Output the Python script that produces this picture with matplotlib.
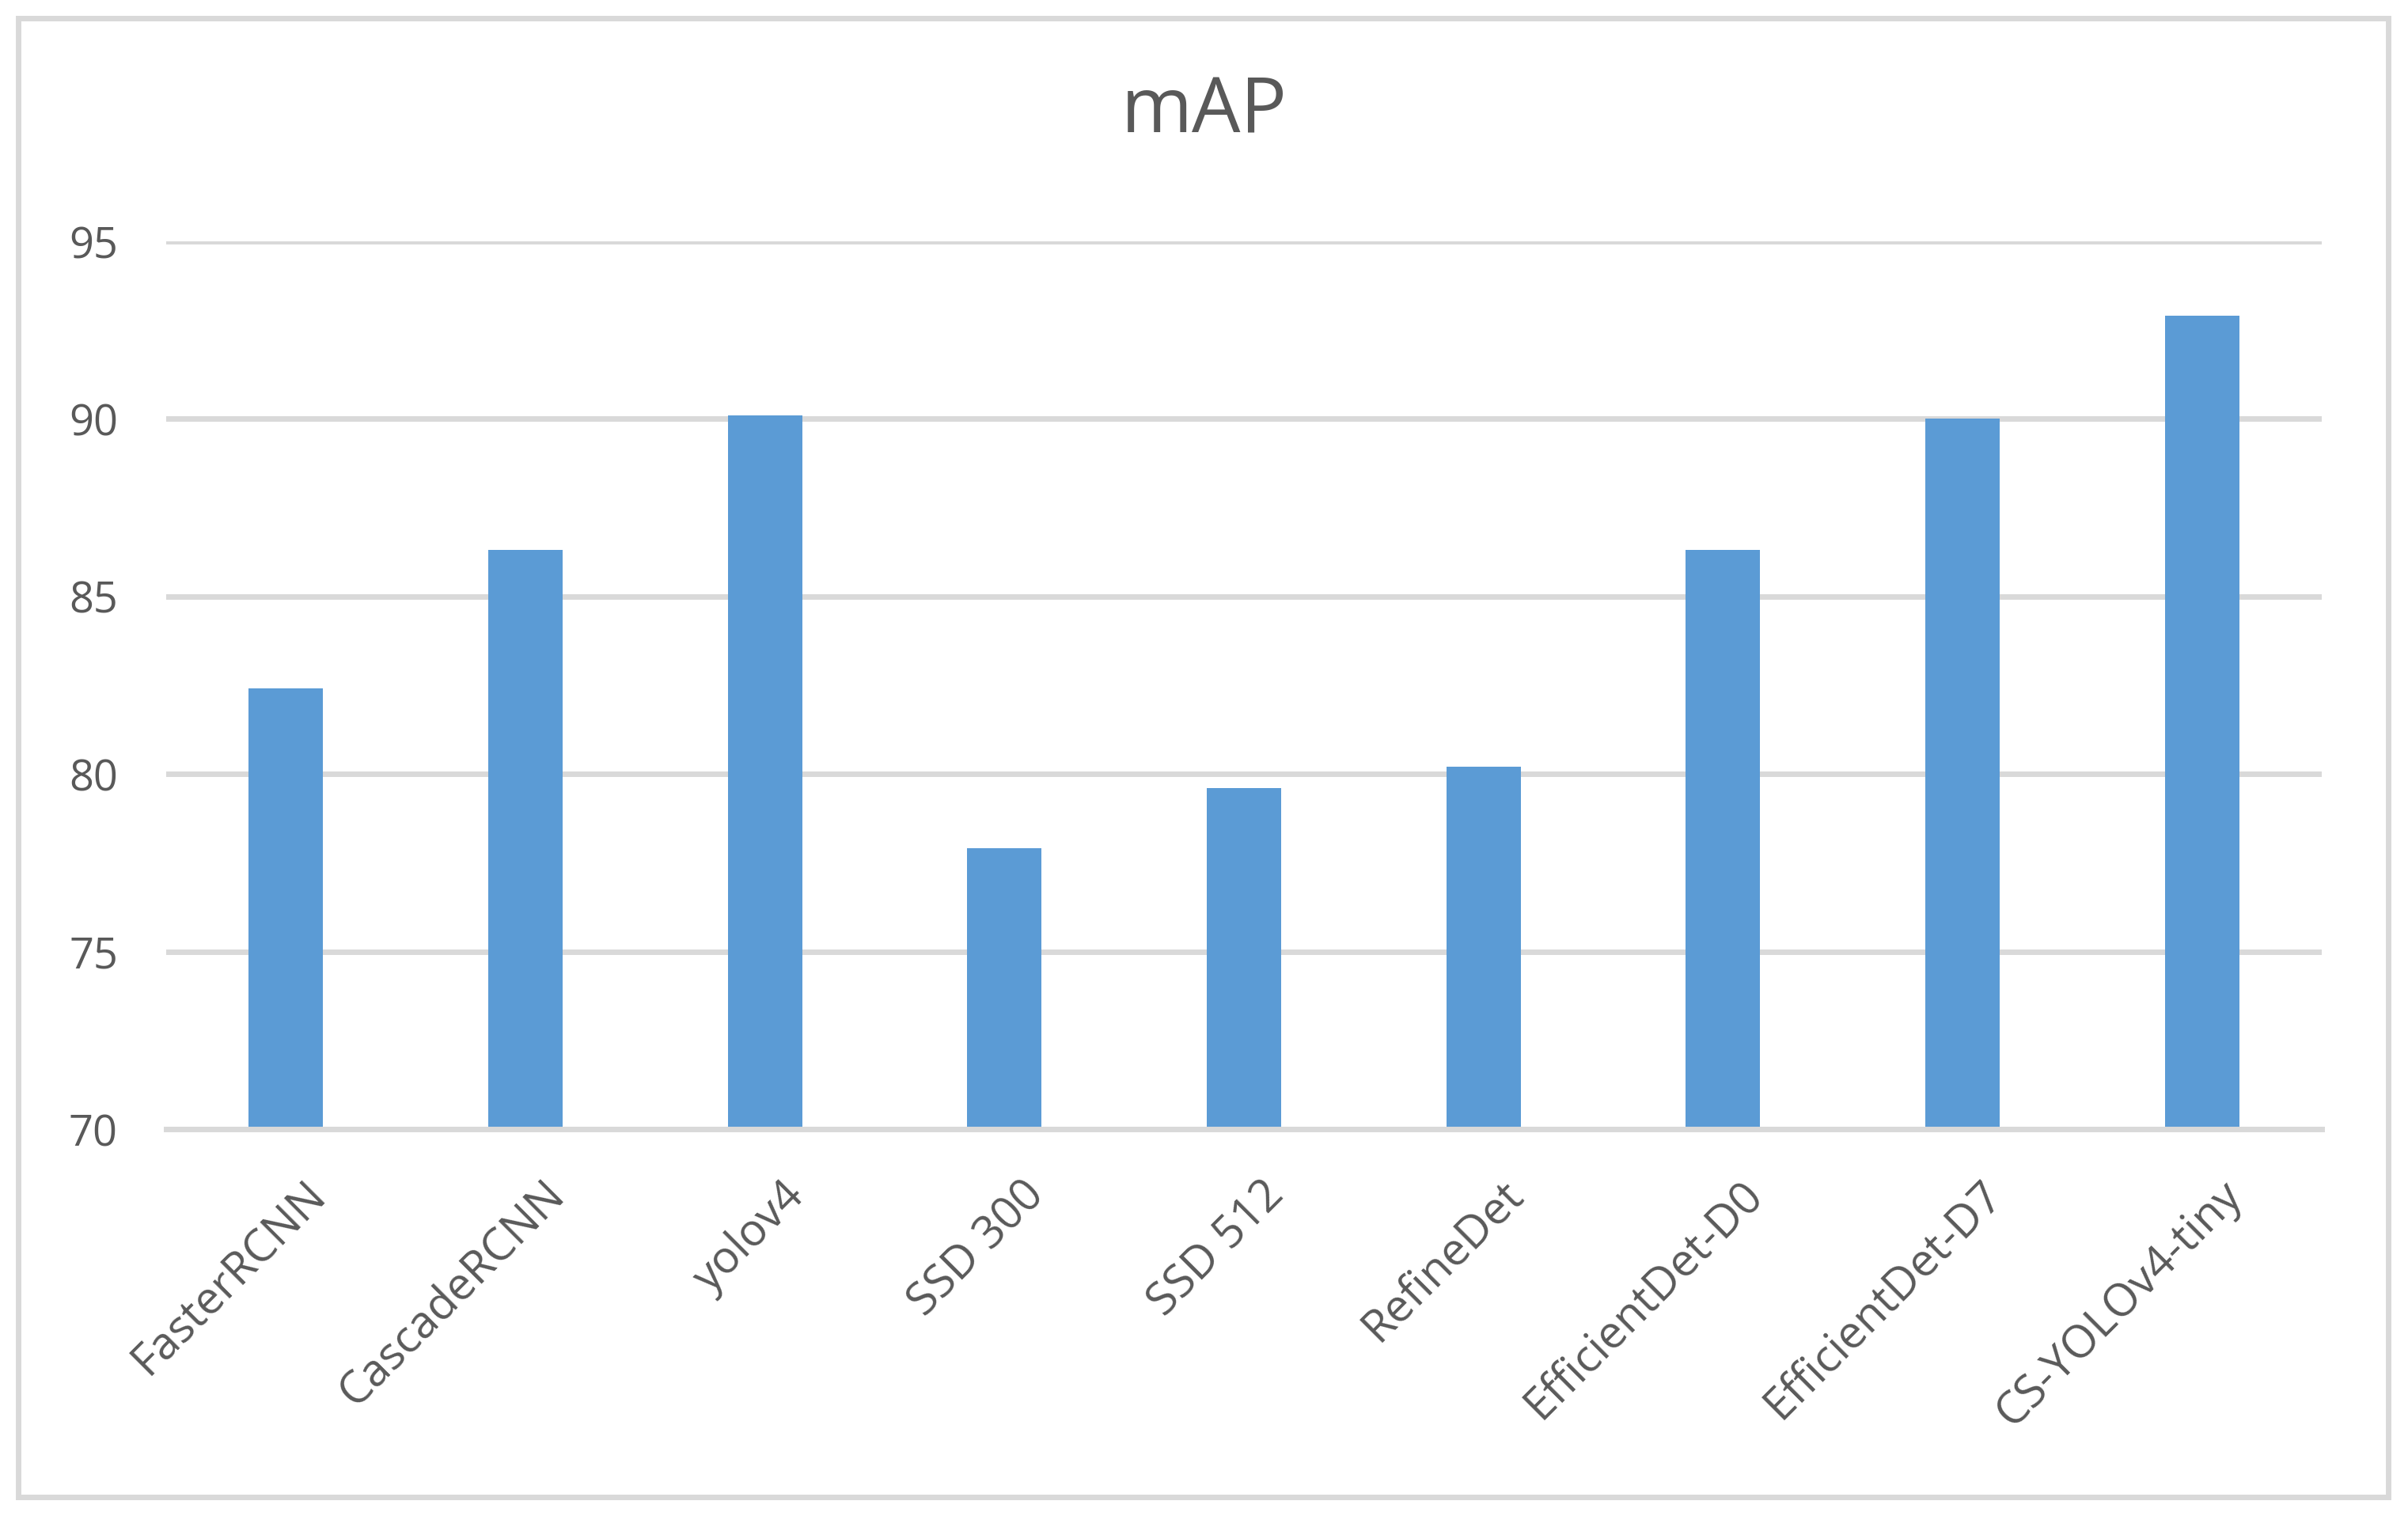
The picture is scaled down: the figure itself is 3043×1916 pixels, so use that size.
import numpy as np
import matplotlib.pyplot as plt
import matplotlib.transforms as mtrans
from matplotlib.patches import Rectangle

plt.rcParams['font.family'] = ['Open Sans', 'DejaVu Sans']

models = ["FasterRCNN", "CascadeRCNN", "yolov4", "SSD 300", "SSD 512",
          "RefineDet", "EfficientDet-D0", "EfficientDet-D7", "CS-YOLOv4-tiny"]
map_values = [82.4, 86.3, 90.1, 77.9, 79.6, 80.2, 86.3, 90.0, 92.9]
y_ticks = [70, 75, 80, 85, 90, 95]

W, H, DPI = 3043, 1916, 200
fig = plt.figure(figsize=(W / DPI, H / DPI), dpi=DPI)
ax = fig.add_axes([210 / W, 1 - 1427 / H, (2934 - 210) / W, (1427 - 305) / H])

x = np.arange(len(models))
ax.bar(x, np.array(map_values) - 70, bottom=70, width=0.31, color="#5b9bd5", zorder=3)

ax.set_xlim(-0.5, len(models) - 0.5)
ax.set_ylim(70, 95)
ax.set_yticks(y_ticks)
ax.set_xticks(x)
ax.set_xticklabels(models, rotation=45, ha="right", rotation_mode="anchor")
ax.tick_params(axis="y", length=0, labelsize=19.5, labelcolor="#595959", pad=22)
ax.tick_params(axis="x", length=0, labelsize=20.5, labelcolor="#595959", pad=20)

# nudge the slanted labels a bit to the right, like the original
shift = mtrans.ScaledTranslation(8 / 72, 0, fig.dpi_scale_trans)
for lab in ax.get_xticklabels():
    lab.set_transform(lab.get_transform() + shift)

ax.grid(axis="y", color="#d9d9d9", linewidth=2.5, zorder=0)
for s in ["top", "right", "left"]:
    ax.spines[s].set_visible(False)
ax.spines["bottom"].set_color("#d9d9d9")
ax.spines["bottom"].set_linewidth(2.5)
ax.spines["bottom"].set_zorder(4)

fig.text(0.5, 1 - 142 / H, "mAP", ha="center", va="center", fontsize=35, color="#595959")

# outer chart border
fig.patches.append(Rectangle((23 / W, 1 - 1892 / H), (3018 - 23) / W, (1892 - 23) / H,
                             transform=fig.transFigure, fill=False,
                             edgecolor="#d9d9d9", linewidth=2.5))

plt.savefig("out.png", dpi=DPI)
